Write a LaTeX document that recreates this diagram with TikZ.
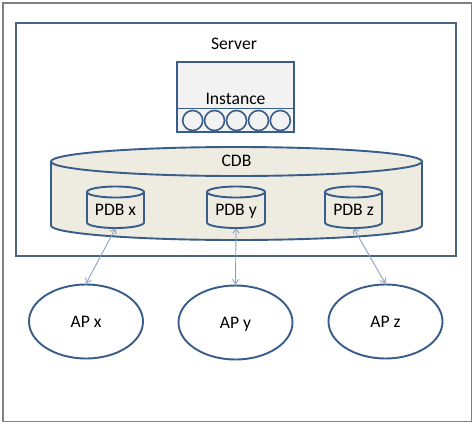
\documentclass[tikz,border=0pt]{standalone}
\usepackage{fontspec}
\setmainfont{Carlito}
\usetikzlibrary{arrows.meta,shapes.geometric}
\definecolor{outl}{HTML}{385D8A}
\definecolor{srvl}{HTML}{4A6584}
\definecolor{cdbf}{HTML}{EEECE1}
\definecolor{instf}{HTML}{F2F2F2}
\definecolor{arrc}{HTML}{8DA2C2}
\definecolor{framec}{HTML}{808080}
\newcommand\mycyl[5]{%
  \pgfmathsetmacro\cylcx{(#1+#2)/2}%
  \pgfmathsetmacro\cylrx{(#2-#1)/2}%
  \filldraw[cylstyle] (#1,#3+#5) -- (#1,#4-#5)
     arc[start angle=180,end angle=360,x radius=\cylrx pt,y radius=#5pt]
     -- (#2,#3+#5)
     arc[start angle=0,end angle=180,x radius=\cylrx pt,y radius=#5pt] -- cycle;
  \draw[cylstyle] (#1,#3+#5)
     arc[start angle=180,end angle=360,x radius=\cylrx pt,y radius=#5pt];
}
\tikzset{
  lbl/.style={font=\fontsize{17.6}{20}\selectfont, text=black, text height=11.3pt, text depth=0pt},
  txt/.style={lbl, inner sep=0pt},
  cylstyle/.style={draw=outl, fill=cdbf, line width=1.9pt},
  apnode/.style={lbl, ellipse, draw=outl, fill=white, line width=1.9pt,
     minimum width=114pt, minimum height=74pt, inner sep=0pt},
  pdbnode/.style={lbl, rectangle, minimum width=57pt, minimum height=37pt, inner sep=0pt},
  conn/.style={draw=arrc, line width=0.9pt, {Straight Barb[length=4.5pt,width=6.5pt]}-{Straight Barb[length=4.5pt,width=6.5pt]}},
  ring/.style={circle, draw=outl, fill=instf, line width=1.6pt, minimum size=20pt, inner sep=0pt}
}
\begin{document}
\begin{tikzpicture}[x=1pt,y=-1pt]
\useasboundingbox (0,0) rectangle (474,424);
\fill[white] (0,0) rectangle (474,424);
% outer frame
\draw[framec, line width=1.6pt] (3,3) rectangle (471.5,421.5);
% server box
\draw[srvl, line width=1.9pt] (16,23) rectangle (456,256);
\node[txt] (server) at (234,43.8) {Server};
% instance
\node[draw=outl, fill=instf, line width=1.9pt, minimum width=117pt, minimum height=70pt, inner sep=0pt] (inst) at (235.5,97) {};
\draw[outl, line width=1pt] (177,108.5) -- (294,108.5);
\node[txt] (insttxt) at (235.5,98.4) {Instance};
\foreach \i/\xx in {1/192.7,2/214.5,3/236.5,4/258.5,5/280.3}
  \node[ring] (r\i) at (\xx,120.5) {};
% CDB
\mycyl{51}{422}{147}{240}{14.5}
\node[txt] (cdb) at (236.5,161) {CDB};
% PDBs
\mycyl{87}{144}{186.5}{228}{5.5}
\mycyl{207}{265}{186.5}{228}{5.5}
\mycyl{325}{382}{186.5}{228}{5.5}
\node[pdbnode] (pdbx) at (115.5,209.5) {PDB x};
\node[pdbnode] (pdby) at (236,209.5) {PDB y};
\node[pdbnode] (pdbz) at (353.5,209.5) {PDB z};
% APs
\node[apnode] (apx) at (86,321.5) {AP x};
\node[apnode] (apy) at (235.5,322.5) {AP y};
\node[apnode] (apz) at (385.5,321.5) {AP z};
% connectors
\draw[conn] (pdbx.south) -- (apx.north);
\draw[conn] (pdby.south) -- (apy.north);
\draw[conn] (pdbz.south) -- (apz.north);
\end{tikzpicture}
\end{document}
